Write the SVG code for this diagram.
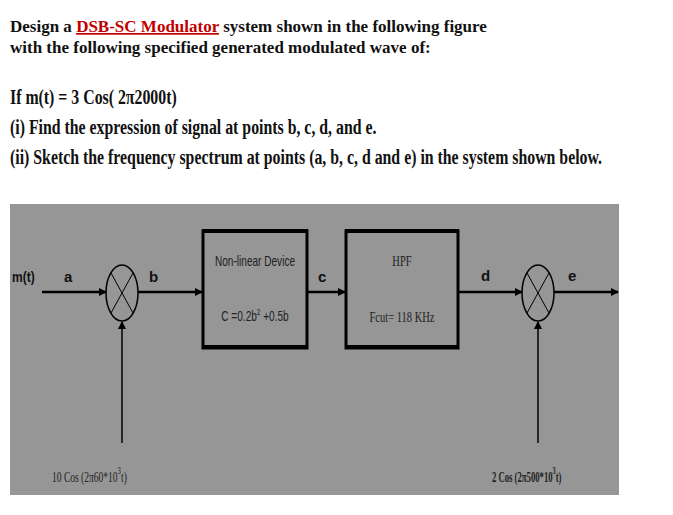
<svg xmlns="http://www.w3.org/2000/svg" width="673" height="515" viewBox="0 0 673 515">
<defs><marker id="ah" markerWidth="8" markerHeight="8" refX="7" refY="4" orient="auto" markerUnits="userSpaceOnUse"><path d="M0,0 L8,4 L0,8 z" fill="#000"/></marker></defs>
<style>
.h{font-family:"Liberation Serif",serif;font-weight:bold;font-size:17px;fill:#111}
.q{font-family:"Liberation Serif",serif;font-weight:bold;font-size:22px;fill:#111}
.lab{font-family:"Liberation Sans",sans-serif;font-weight:bold;font-size:15px;fill:#111}
.bx{font-family:"Liberation Serif",serif;font-size:14px;fill:#222}
.sn{font-family:"Liberation Sans",sans-serif;font-size:14px;fill:#222}
.ln{stroke:#000;stroke-width:2.5;fill:none}
.box{fill:#969696;stroke:#000;stroke-width:3}
</style>
<rect width="673" height="515" fill="#fff"/>
<text class="h" x="10" y="32">Design a <tspan fill="#c00000" text-decoration="underline">DSB-SC Modulator</tspan> system shown in the following figure</text>
<text class="h" x="10" y="53">with the following specified generated modulated wave of:</text>
<g transform="translate(10,0) scale(0.72,1)">
<text class="q" x="0" y="104">If m(t) = 3 Cos( 2π2000t)</text>
<text class="q" x="0" y="134">(i)  Find the expression of signal at points b, c, d, and e.</text>
<text class="q" x="0" y="164">(ii) Sketch the frequency spectrum at points (a, b, c, d and e) in the system shown below.</text>
</g>
<rect x="10" y="204" width="609" height="291" fill="#969696"/>
<g id="connectors">
<line class="ln" x1="42" y1="292" x2="106" y2="292" marker-end="url(#ah)"/>
<line class="ln" x1="138" y1="292" x2="202" y2="292" marker-end="url(#ah)"/>
<line class="ln" x1="308" y1="292" x2="345" y2="292" marker-end="url(#ah)"/>
<line class="ln" x1="459" y1="292" x2="522" y2="292" marker-end="url(#ah)"/>
<line class="ln" x1="554" y1="292" x2="618" y2="292" marker-end="url(#ah)"/>
<line x1="122" y1="443" x2="122" y2="322" stroke="#000" stroke-width="1.5" marker-end="url(#ah)"/>
<line x1="538" y1="443" x2="538" y2="322" stroke="#000" stroke-width="1.5" marker-end="url(#ah)"/>
</g>
<g class="lab">
<text x="12" y="282" transform="translate(12,0) scale(0.8,1) translate(-12,0)">m(t)</text>
<text x="64" y="282">a</text><text x="149" y="282">b</text>
<text x="318" y="282">c</text><text x="481" y="281">d</text><text x="568" y="281">e</text>
</g>
<g id="mult1"><ellipse cx="122" cy="293" rx="16" ry="28" fill="none" stroke="#000" stroke-width="1.5"/>
<path d="M111,273 L133,313 M133,273 L111,313" stroke="#000" stroke-width="1"/></g>
<g id="mult2"><ellipse cx="538" cy="293" rx="16" ry="28" fill="none" stroke="#000" stroke-width="1.5"/>
<path d="M527,273 L549,313 M549,273 L527,313" stroke="#000" stroke-width="1"/></g>
<g id="nonlinear"><rect class="box" x="203" y="231" width="104" height="117"/>
<line x1="202" y1="231" x2="308" y2="231" stroke="#000" stroke-width="4"/><line x1="202" y1="347" x2="308" y2="347" stroke="#000" stroke-width="4"/>
<g transform="translate(255,0) scale(0.72,1)">
<text class="sn" x="0" y="266" text-anchor="middle">Non-linear Device</text>
<text class="sn" x="0" y="321" text-anchor="middle">C =0.2b<tspan dy="-6" font-size="9">2</tspan><tspan dy="6"> +0.5b</tspan></text></g></g>
<g id="hpf"><rect class="box" x="346" y="231" width="112" height="117"/>
<line x1="345" y1="231" x2="459" y2="231" stroke="#000" stroke-width="4"/><line x1="345" y1="347" x2="459" y2="347" stroke="#000" stroke-width="4"/>
<g transform="translate(402,0) scale(0.75,1)">
<text class="bx" x="0" y="266" text-anchor="middle" font-size="15">HPF</text>
<text class="bx" x="0" y="322" text-anchor="middle" font-size="16">Fcut= 118 KHz</text></g></g>
<g transform="translate(52,0) scale(0.68,1)">
<text class="bx" x="0" y="482" font-size="19">10 Cos (2π60*10<tspan dy="-8" font-size="10">3</tspan><tspan dy="8">t)</tspan></text></g>
<g transform="translate(492,0) scale(0.62,1)">
<text class="bx" x="0" y="482" font-size="19" font-weight="bold">2 Cos (2π500*10<tspan dy="-8" font-size="10">3</tspan><tspan dy="8">t)</tspan></text></g>
</svg>
